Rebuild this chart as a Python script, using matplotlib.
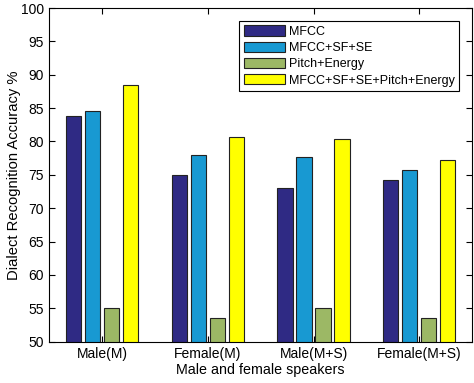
import matplotlib.pyplot as plt
import numpy as np

plt.rcParams['font.family'] = ['Liberation Sans', 'DejaVu Sans']

groups = ["Male(M)", "Female(M)", "Male(M+S)", "Female(M+S)"]
series = ["MFCC", "MFCC+SF+SE", "Pitch+Energy", "MFCC+SF+SE+Pitch+Energy"]
mfcc = [83.8, 75.0, 73.1, 74.3]
mfcc_sf_se = [84.6, 77.9, 77.7, 75.7]
pitch_energy = [55.0, 53.6, 55.0, 53.6]
all_feats = [88.5, 80.7, 80.4, 77.2]
colors = ["#2f2a84", "#1899d2", "#9cb865", "#ffff00"]

fig = plt.figure(figsize=(4.74, 3.83), dpi=100)
ax = fig.add_axes([0.104, 0.108, 0.892, 0.871])

x = np.arange(1, len(groups) + 1)
step = 0.18
width = 0.145
for i, (vals, name) in enumerate(zip([mfcc, mfcc_sf_se, pitch_energy, all_feats], series)):
    ax.bar(x + (i - 1.5) * step, vals, width, bottom=0, color=colors[i],
           edgecolor="#222222", linewidth=0.8, label=name)

ax.set_ylim(50, 100)
ax.set_xlim(0.5, 4.5)
ax.set_xticks(x)
ax.set_xticklabels(groups)
ax.set_yticks(range(50, 101, 5))
ax.tick_params(direction="in", top=True, right=True, labelsize=10, length=4, pad=4)
ax.set_xlabel("Male and female speakers", fontsize=10.3, labelpad=1)
ax.set_ylabel("Dialect Recognition Accuracy %", fontsize=10.6, labelpad=-0.5)

leg = ax.legend(loc="upper right", bbox_to_anchor=(0.984, 0.98), fontsize=9,
                fancybox=False, edgecolor="black", framealpha=1,
                handlelength=3.3, handleheight=0.9, borderpad=0.35,
                labelspacing=0.3, handletextpad=0.3)
leg.get_frame().set_linewidth(0.8)

fig.savefig("out.png", dpi=100)
